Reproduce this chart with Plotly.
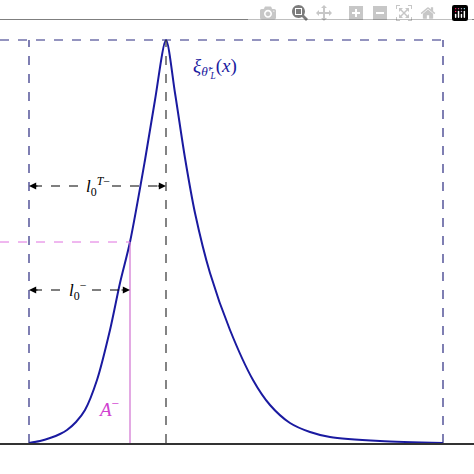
import plotly.graph_objects as go

# curve xi(x) (x position, height above axis)
curve_x = [29, 40, 50, 60, 67, 76, 85, 97, 110, 120, 130, 145, 155, 166, 175, 185, 195, 210, 230, 253, 270, 290, 310, 330, 380, 443]
curve_y = [0, 2, 5, 9, 13, 21, 33, 63, 113, 160, 201, 283, 343, 403, 350, 285, 230, 170, 113, 63, 38, 20, 11, 6, 2, 0]

x_left, x_peak, x_right, x_c0 = 29, 166, 443, 130
y_top, y_c0, y_frame = 403, 201, 424
y_lT, y_l = 257, 153

fig = go.Figure()
fig.add_trace(go.Scatter(x=curve_x, y=curve_y, mode="lines",
                         line=dict(color="#1a1aa0", width=2, shape="spline", smoothing=0.8)))

dash_blue = dict(color="#2a2a80", width=1.2, dash="dash")
dash_black = dict(color="black", width=1.2, dash="dash")
shapes = [
    dict(type="line", x0=0, x1=x_right, y0=y_top, y1=y_top, line=dash_blue),
    dict(type="line", x0=x_left, x1=x_left, y0=0, y1=y_top, line=dash_blue),
    dict(type="line", x0=x_right, x1=x_right, y0=0, y1=y_top, line=dash_blue),
    dict(type="line", x0=x_peak, x1=x_peak, y0=0, y1=y_top, line=dict(color="#333", width=1.2, dash="dash")),
    dict(type="line", x0=0, x1=x_c0, y0=y_c0, y1=y_c0, line=dict(color="#e070e0", width=1, dash="dash")),
    dict(type="line", x0=x_c0, x1=x_c0, y0=0, y1=y_c0, line=dict(color="#d070d0", width=1.2)),
    dict(type="line", xref="paper", x0=0, x1=1, y0=y_frame, y1=y_frame, line=dict(color="#555", width=1.5)),
    dict(type="line", x0=x_left + 4, x1=85, y0=y_lT, y1=y_lT, line=dash_black),
    dict(type="line", x0=112, x1=x_peak - 4, y0=y_lT, y1=y_lT, line=dash_black),
    dict(type="line", x0=x_left + 4, x1=65, y0=y_l, y1=y_l, line=dash_black),
    dict(type="line", x0=92, x1=x_c0 - 4, y0=y_l, y1=y_l, line=dash_black),
]

serif = "Liberation Serif, Times New Roman, serif"
font = dict(family=serif, size=17, color="black")
ann = []
for xa, xb, yy in [(x_left, x_left + 10, y_lT), (x_peak, x_peak - 10, y_lT), (x_left, x_left + 10, y_l), (x_c0, x_c0 - 10, y_l)]:
    ann.append(dict(x=xa, y=yy, ax=xb, ay=yy, axref="x", ayref="y", text="", showarrow=True,
                    arrowhead=2, arrowsize=1.2, arrowwidth=1.2, arrowcolor="black"))
ann += [
    dict(x=98, y=y_lT, text="<i>l</i><sub>0</sub><sup><i>T</i>−</sup>", showarrow=False, font=font),
    dict(x=78, y=y_l, text="<i>l</i><sub>0</sub><sup>−</sup>", showarrow=False, font=font),
    dict(x=191, y=375, text="<i>ξ</i><sub><i>θ̃′<sub>L</sub></i></sub>(<i>x</i>)", showarrow=False, xanchor="left",
         font=dict(family=serif, size=19, color="#1a1aa0")),
    dict(x=108, y=35, text="<i>A</i><sup>−</sup>", showarrow=False, font=dict(family=serif, size=19, color="#d040d0")),
    dict(x=x_c0, y=-20, text="<i>c</i><sub>0</sub><sup>−</sup>", showarrow=False,
         font=dict(family=serif, size=17, color="#d040d0")),
    dict(x=157, y=-20, text="<i>Mθ′<sub>L</sub></i> = <i>θ̂<sub>L</sub></i>", showarrow=False, xanchor="left", font=font),
    dict(x=-3, y=-20, text="<i>θ̂′<sub>L</sub></i><sub>1</sub>(0.001)", showarrow=False, xanchor="left", font=font),
    dict(x=404, y=-20, text="<i>θ̂′<sub>L</sub></i><sub>2</sub>(0.001)", showarrow=False, xanchor="left", font=font),
]

fig.update_layout(
    width=474, height=474, margin=dict(l=0, r=0, t=19, b=31),
    plot_bgcolor="white", paper_bgcolor="white", showlegend=False,
    shapes=shapes, annotations=ann,
    xaxis=dict(range=[0, 474], showgrid=False, zeroline=False, showticklabels=False,
               showline=True, linecolor="#333", linewidth=1.5, ticks=""),
    yaxis=dict(range=[0, 424], showgrid=False, zeroline=False, showticklabels=False, showline=False),
)
fig.write_html("out.html", post_script="document.body.style.margin='0';")
